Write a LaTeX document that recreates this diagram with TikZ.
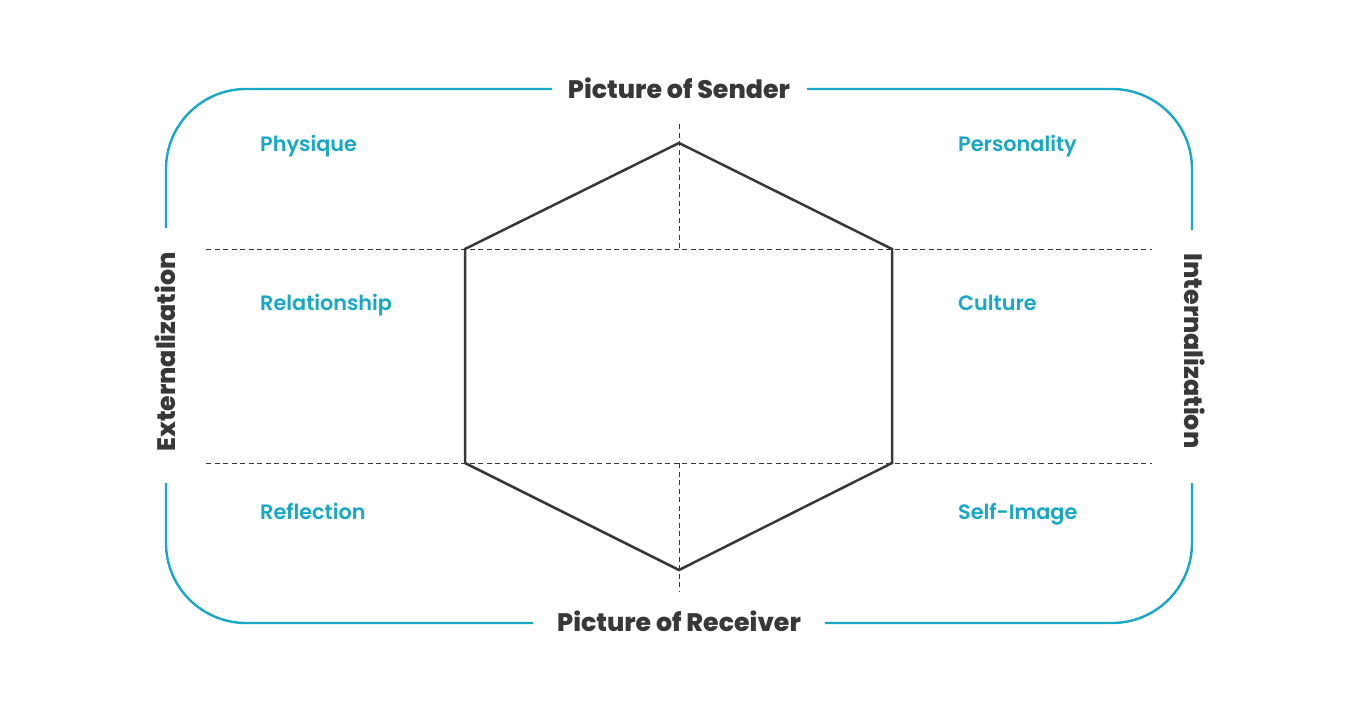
\documentclass[tikz,border=0pt]{standalone}
\usepackage{fontspec}
\setmainfont{Poppins}
\newfontfamily\heavyfont{Poppins}[UprightFont=* ExtraBold]
\newfontfamily\semifont{Poppins}[UprightFont=* SemiBold]
\definecolor{teal1}{HTML}{17A8C5}
\definecolor{dark1}{HTML}{383838}
\begin{document}
\begin{tikzpicture}[x=1pt,y=-1pt,
  frame/.style={draw=teal1,line width=2.4pt,rounded corners=80pt},
  hexline/.style={draw=dark1,line width=2.5pt,line join=miter},
  guide/.style={draw=dark1,line width=1pt,dash pattern=on 5pt off 3.5pt},
  label/.style={text=teal1,font=\semifont\fontsize{20.8}{22}\selectfont,anchor=base west,inner sep=0pt},
  title/.style={text=dark1,font=\heavyfont\fontsize{25.3}{27}\selectfont,inner sep=0pt}]
\useasboundingbox (0,0) rectangle (1366,720);
% hexagon vertices
\coordinate (ht) at (679,143);
\coordinate (hur) at (892,249);
\coordinate (hlr) at (892,463);
\coordinate (hb) at (679,570);
\coordinate (hll) at (465,463);
\coordinate (hul) at (465,249);
% guide ends
\coordinate (g1l) at (206,249);
\coordinate (g1r) at (1152,249);
\coordinate (g2l) at (206,463);
\coordinate (g2r) at (1152,463);
\coordinate (vt) at (679,124);
\coordinate (vm1) at (679,249);
\coordinate (vm2) at (679,463);
\coordinate (vb) at (679,592);
\draw[guide] (g1l) -- (g1r);
\draw[guide] (g2l) -- (g2r);
\draw[guide] (vt) -- (vm1);
\draw[guide] (vm2) -- (vb);
\draw[hexline] (ht) -- (hur) -- (hlr) -- (hb) -- (hll) -- (hul) -- cycle;
% frame
\draw[frame] (166,228) -- (166,89) -- (552,89);
\draw[frame] (807,89) -- (1192,89) -- (1192,230);
\draw[frame] (1192,483) -- (1192,623) -- (825,623);
\draw[frame] (533,623) -- (166,623) -- (166,483);
% titles
\node[title,anchor=base] (sender) at (679,98) {Picture of Sender};
\node[title,anchor=base] (receiver) at (679,631) {Picture of Receiver};
\node[title,anchor=base,rotate=90] (ext) at (175,352) {Externalization};
\node[title,anchor=base,rotate=-90] (int) at (1184,351) {Internalization};
% labels
\node[label] (physique) at (260,151) {Physique};
\node[label] (relationship) at (260,310) {Relationship};
\node[label] (reflection) at (260,519) {Reflection};
\node[label] (personality) at (958,151) {Personality};
\node[label] (culture) at (958,310) {Culture};
\node[label] (selfimage) at (958,519) {Self-Image};
\end{tikzpicture}
\end{document}
